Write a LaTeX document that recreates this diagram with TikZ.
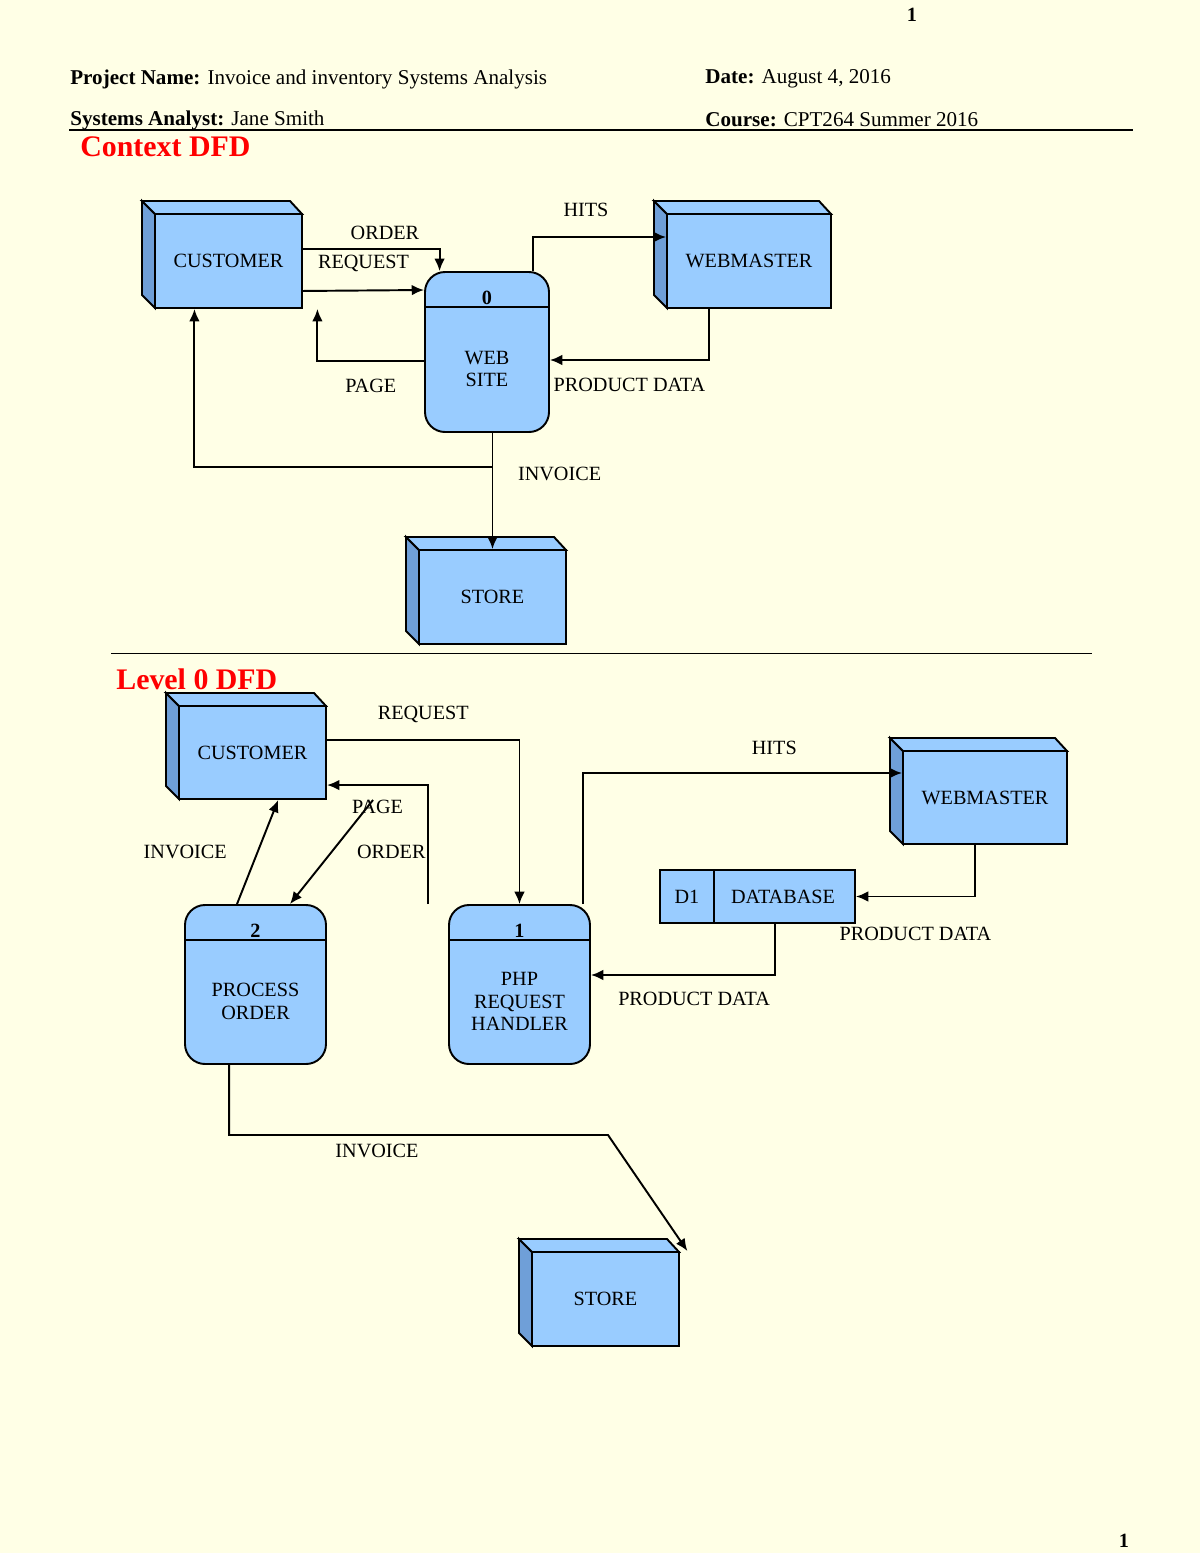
\documentclass[tikz,border=0pt]{standalone}
\usepackage{fontspec}
\setmainfont{Liberation Serif}
\usetikzlibrary{arrows.meta,fit,calc}

\definecolor{pagebg}{HTML}{FFFFE6}
\definecolor{boxblue}{HTML}{99CCFF}
\definecolor{sideblue}{HTML}{6F9FD8}

\tikzset{
  flow/.style={line width=1.1pt,-{Latex[length=7pt,width=6pt]}},
  line/.style={line width=1.1pt},
  boxface/.style={draw,line width=1.1pt,fill=boxblue},
  lbl/.style={font=\fontsize{11.5}{13}\selectfont,inner sep=0pt},
  head/.style={font=\fontsize{12}{14}\selectfont,anchor=west,inner sep=0pt}
}

% external entity: name, x1, y1, x2, y2, text
\newcommand\entity[6]{
  \draw[boxface,fill=sideblue] (#2,#3) -- (#2+13,#3+13) -- (#2+13,#5) -- (#2,#5-13) -- cycle;
  \draw[boxface] (#2,#3) -- (#4-12,#3) -- (#4,#3+13) -- (#2+13,#3+13) -- cycle;
  \coordinate (#1-a) at (#2+13,#3+13);
  \coordinate (#1-b) at (#4,#5);
  \node[boxface,fit=(#1-a)(#1-b),inner sep=0pt] (#1) {};
  \node[lbl] at (#1) {#6};
}
% process: name, x1, y1, x2, y2, number, text
\newcommand\process[7]{
  \coordinate (#1-a) at (#2,#3);
  \coordinate (#1-b) at (#4,#5);
  \node[boxface,fit=(#1-a)(#1-b),inner sep=0pt,rounded corners=0.4cm] (#1) {};
  \draw[line] (#2,#3+35) -- (#4,#3+35);
  \node[lbl] at ($(#1.north)+(0,27)$) {\textbf{#6}};
  \node[lbl,align=center] at ($(#1.center)+(0,17)$) {#7};
}

\begin{document}
\begin{tikzpicture}[x=0.02cm,y=-0.02cm]
  \fill[pagebg] (0,0) rectangle (1200,1553);
  \useasboundingbox (0,0) rectangle (1200,1553);

  % page header
  \node[lbl] (pg1) at (912,15) {\textbf{1}};
  \node[lbl] (pg2) at (1124,1541) {\textbf{1}};
  \node[head] (proj) at (70,79) {\textbf{Project Name:} Invoice and inventory Systems Analysis};
  \node[head] (date) at (705,79) {\textbf{Date:} August 4, 2016};
  \node[head] (anal) at (70,120) {\textbf{Systems Analyst:} Jane Smith};
  \node[head] (course) at (705,120) {\textbf{Course:} CPT264 Summer 2016};
  \draw[line] (69,130) -- (1133,130);
  \node[head,text=red,font=\fontsize{17}{19}\selectfont\bfseries] (ctx) at (80,147) {Context DFD};
  \draw[thin] (111,653) -- (1092,653);
  \node[head,text=red,font=\fontsize{17}{19}\selectfont\bfseries] (lvl) at (116,679) {Level 0 DFD};

  % context diagram
  \entity{cust}{142}{201}{302}{308}{CUSTOMER}
  \entity{web}{654}{201}{831}{308}{WEBMASTER}
  \entity{store}{406}{537}{566}{644}{STORE}
  \process{site}{425}{272}{549}{432}{0}{WEB\\SITE}

  \draw[flow] ([shift={(0,36)}]cust.north east) -| ([xshift=-27]site.north) node[pos=0.3,above=5pt,lbl] {ORDER};
  \draw[flow] ([shift={(0,-18)}]cust.south east) -- (site.west |- 0,290) node[midway,above=10pt,lbl] {REQUEST};
  \draw[flow] ([xshift=26]site.north) |- (web.west |- 0,237) node[pos=0.7,above=11pt,lbl] {HITS};
  \draw[flow] ([xshift=-70]web.south east) |- (site.east |- 0,360) node[pos=0.75,below=10pt,lbl] {PRODUCT DATA};
  \draw[flow] (site.west |- 0,361) -| ([xshift=93]cust.south west) node[pos=0.25,below=10pt,lbl] {PAGE};
  \draw[flow] (site.south -| store.north) -- (store.north) node[pos=0.35,right=14pt,lbl] {INVOICE};
  \draw[flow] (site.south -| store.north) ++(0,34) -| ([xshift=23]cust.south west);

  % level 0 diagram
  \entity{cust2}{166}{693}{326}{799}{CUSTOMER}
  \entity{web2}{890}{738}{1067}{844}{WEBMASTER}
  \entity{store2}{519}{1239}{679}{1346}{STORE}
  \process{proc}{185}{905}{326}{1064}{2}{PROCESS\\ORDER}
  \process{php}{449}{905}{590}{1064}{1}{PHP\\REQUEST\\HANDLER}
  \node[boxface,minimum width=195*0.02cm,minimum height=53*0.02cm,inner sep=0pt] (db) at (757.5,896.5) {};
  \draw[line] (714,870) -- (714,923);
  \node[lbl] (dbid) at (687,897) {D1};
  \node[lbl] (dbname) at (783,897) {DATABASE};

  \draw[flow] ([shift={(0,35)}]cust2.north east) -| (php.north) node[pos=0.25,above=9pt,lbl] {REQUEST};
  \draw[flow] ([xshift=-52]php.north) |- ([shift={(0,80)}]cust2.north east) node[pos=0.75,below=8pt,lbl] {PAGE};
  \draw[flow] ([xshift=36]php.north) |- (web2.west |- 0,773) node[pos=0.8,above=10pt,lbl] {HITS};
  \draw[flow] ([xshift=-53]web2.south east) |- (db.east) node[pos=0.75,below=17pt,lbl] {PRODUCT DATA};
  \draw[flow] ([xshift=10]db.south) |- (php.east |- 0,975) node[pos=0.72,below=9pt,lbl] {PRODUCT DATA};
  \draw[flow] (proc.north -| 237,0) -- ([xshift=57]cust2.south west) node[midway,left=17pt,lbl] {INVOICE};
  \draw[flow] ([xshift=111]cust2.south west) -- (proc.north -| 290,0) node[midway,right=14pt,lbl] {ORDER};
  \draw[flow] ([xshift=-15]proc.south) |- (608,1135) -- ([xshift=89]store2.north west);
  \node[lbl] (inv2) at (377,1151) {INVOICE};
\end{tikzpicture}
\end{document}
